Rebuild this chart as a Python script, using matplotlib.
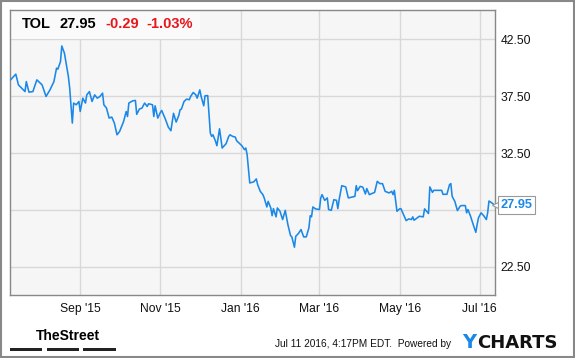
import numpy as np
import matplotlib
matplotlib.use("Agg")
import matplotlib.pyplot as plt
import matplotlib.dates as mdates
from matplotlib.patches import Rectangle

# TOL daily close, days counted from 2015-07-10
start = np.datetime64('2015-07-10')
days = [0, 4, 6, 11, 12, 14, 17, 20, 24, 27,
        30, 33, 35, 36, 38, 39, 41, 44, 45, 47,
        48, 50, 52, 53, 55, 57, 58, 60, 62, 64,
        66, 68, 70, 71, 73, 75, 77, 79, 81, 83,
        86, 88, 89, 90, 93, 95, 96, 98, 100, 102,
        104, 105, 108, 109, 110, 112, 114, 115, 118, 120,
        122, 124, 126, 128, 129, 130, 132, 134, 136, 137,
        139, 141, 142, 144, 145, 147, 148, 150, 152, 153,
        154, 156, 157, 159, 161, 164, 166, 167, 169, 171,
        172, 176, 178, 179, 180, 182, 185, 187, 188, 190,
        192, 193, 195, 196, 198, 199, 200, 202, 203, 205,
        207, 209, 211, 213, 214, 216, 217, 219, 221, 223,
        225, 227, 228, 229, 230, 232, 235, 236, 237, 239,
        241, 242, 244, 246, 248, 249, 250, 252, 255, 257,
        262, 263, 264, 266, 268, 270, 271, 273, 277, 279,
        281, 283, 285, 288, 290, 291, 292, 294, 296, 297,
        299, 301, 303, 305, 306, 307, 309, 311, 314, 315,
        318, 319, 321, 322, 328, 329, 332, 334, 335, 336,
        338, 340, 342, 343, 346, 347, 348, 350, 352, 354,
        355, 356, 358, 360, 362, 363, 364, 366, 368]
close = [38.93, 39.43, 38.49, 37.90, 38.78, 37.85, 37.90, 38.93, 38.49, 37.47,
         38.05, 38.78, 39.96, 39.87, 40.54, 41.91, 41.27, 39.22, 38.20, 35.13,
         36.89, 36.74, 37.03, 36.15, 37.32, 36.89, 37.61, 37.90, 37.03, 37.61,
         37.32, 37.47, 37.76, 36.74, 36.45, 35.57, 35.66, 35.13, 34.10, 34.40,
         35.27, 36.15, 35.71, 36.89, 37.09, 37.12, 35.90, 36.36, 36.45, 36.89,
         36.59, 36.83, 36.74, 35.71, 36.65, 35.57, 36.06, 36.24, 35.42, 34.78,
         34.46, 35.99, 35.22, 35.80, 36.30, 36.36, 37.03, 37.24, 37.18, 37.47,
         37.82, 37.61, 37.32, 38.05, 37.47, 36.65, 37.53, 37.55, 34.25, 33.96,
         34.10, 33.52, 33.14, 34.63, 32.94, 33.32, 33.96, 34.10, 33.96, 33.90,
         33.58, 33.14, 32.79, 32.94, 32.35, 29.87, 29.96, 30.22, 29.72, 29.13,
         28.84, 28.55, 27.76, 28.25, 27.67, 26.99, 27.61, 26.89, 27.67, 27.38,
         26.65, 27.46, 26.21, 25.25, 25.13, 24.22, 25.18, 25.42, 25.77, 25.13,
         25.13, 25.92, 26.99, 26.89, 27.76, 27.59, 27.53, 28.55, 28.84, 28.34,
         28.55, 27.53, 27.46, 28.40, 28.34, 27.61, 28.40, 29.63, 29.52, 28.55,
         28.69, 29.63, 29.19, 29.57, 29.50, 28.90, 29.38, 28.84, 29.04, 30.01,
         29.81, 29.81, 29.13, 28.99, 29.13, 28.84, 29.22, 27.38, 27.59, 27.61,
         27.09, 26.56, 26.71, 26.65, 26.89, 26.59, 26.76, 26.94, 26.89, 27.59,
         27.18, 29.52, 29.04, 29.22, 29.22, 28.87, 28.87, 29.72, 29.81, 28.69,
         28.25, 27.44, 27.82, 27.88, 27.88, 27.24, 27.53, 26.94, 26.21, 25.53,
         26.21, 26.80, 27.24, 26.99, 26.65, 27.24, 28.28, 28.13, 27.95]

yticks = [22.5, 27.5, 32.5, 37.5, 42.5]
ylabels = ['22.50', '', '32.50', '37.50', '42.50']

ticker = 'TOL'
last = '27.95'
chg = '-0.29'
pct = '-1.03%'
stamp = 'Jul 11 2016, 4:17PM EDT.  Powered by'

dates = (start + np.array(days).astype('timedelta64[D]')).astype(object)

plt.rcParams['font.family'] = ['Liberation Sans', 'DejaVu Sans']

fig = plt.figure(figsize=(5.75, 3.58), dpi=100)
fig.patch.set_facecolor('white')
W, H = 575.0, 358.0
ax = fig.add_axes([10/W, (H-295)/H, 484.5/W, 285/H])
ax.set_facecolor('#f6f6f6')

line_color = '#1a88e8'
ax.plot(dates, close, color=line_color, lw=1.15, zorder=3)

ylo, yhi = 20.02, 45.07
ax.set_xlim(np.datetime64('2015-07-09T14:00'), np.datetime64('2016-07-12T05:00'))
ax.set_ylim(ylo, yhi)

ax.xaxis.set_major_locator(mdates.MonthLocator(bymonth=[1, 3, 5, 7, 9, 11]))
ax.xaxis.set_major_formatter(mdates.DateFormatter("%b '%y"))
ax.set_yticks(yticks)
ax.set_yticklabels(ylabels)
ax.yaxis.tick_right()
ax.tick_params(axis='both', length=0, labelsize=8.7, colors='#111111')
ax.tick_params(axis='y', pad=4.5)
ax.tick_params(axis='x', pad=5.5)
ax.grid(True, color='#d8d8d8', lw=1)
ax.set_axisbelow(True)
for s in ax.spines.values():
    s.set_color('#888888')
    s.set_linewidth(1)

# header box
ax.add_patch(Rectangle((0, 0.9), 190/484.5, 0.1, transform=ax.transAxes,
                       facecolor='#fafafa', edgecolor='none', zorder=2))
fig.text(22/W, 1 - 24/H, ticker, fontsize=10.5, fontweight='bold', va='center')
fig.text(60/W, 1 - 24/H, last, fontsize=10.5, fontweight='bold', va='center')
fig.text(105/W, 1 - 24/H, chg, fontsize=10.5, fontweight='bold', va='center', color='#e8161b')
fig.text(146/W, 1 - 24/H, pct, fontsize=10.5, fontweight='bold', va='center', color='#e8161b')

# last value tag
ty = (close[-1] - ylo) / (yhi - ylo)
ax.plot([1.004], [ty], marker='<', ms=6, mfc='white', mec='#999999', mew=0.8,
        transform=ax.transAxes, clip_on=False, zorder=5)
ax.annotate(last, xy=(1, ty), xycoords='axes fraction',
            xytext=(4.5, 0), textcoords='offset points', va='center', ha='left',
            fontsize=9.2, fontweight='bold', color=line_color,
            bbox=dict(boxstyle='square,pad=0.22', fc='white', ec='#999999', lw=0.8),
            annotation_clip=False, zorder=6)

# footer
fig.text(36/W, 1 - 336/H, 'TheStreet', fontsize=10, fontweight='bold', va='center',
         family=['Liberation Sans Narrow', 'Liberation Sans', 'DejaVu Sans'])
for x0, x1 in [(10, 42), (47, 79), (83, 116)]:
    fig.add_artist(Rectangle((x0/W, 1 - 351/H), (x1 - x0)/W, 3/H, transform=fig.transFigure,
                             facecolor='#222222', edgecolor='none'))
fig.text(275/W, 1 - 344/H, stamp, fontsize=7.3, va='center', color='#111111')
fig.text(462/W, 1 - 343/H, 'Y', fontsize=14, fontweight='bold', va='center', color=line_color,
         family=['DejaVu Sans'])
fig.text(477/W, 1 - 343/H, 'CHARTS', fontsize=13, fontweight='bold', va='center', color='#111111',
         family=['DejaVu Sans'])

# outer border
fig.add_artist(Rectangle((1/W, 1/H), (W - 2)/W, (H - 2)/H, transform=fig.transFigure,
                         facecolor='none', edgecolor='#888888', lw=1.5))

fig.savefig('out.png', dpi=100)
